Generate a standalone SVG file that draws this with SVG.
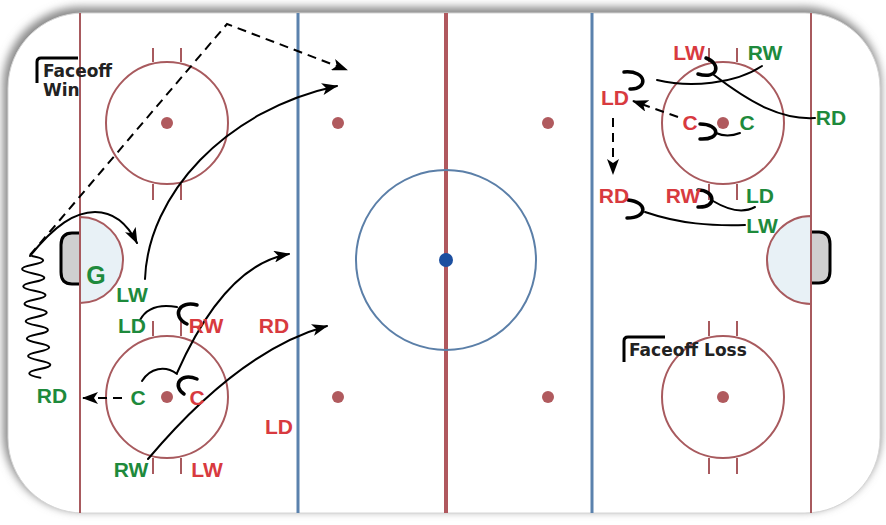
<svg xmlns="http://www.w3.org/2000/svg" width="886" height="525" viewBox="0 0 886 525">
<defs>
<filter id="sh" x="-5%" y="-5%" width="110%" height="110%"><feGaussianBlur stdDeviation="4"/></filter>
<marker id="ah" viewBox="0 0 16 12" refX="15" refY="6" markerWidth="16" markerHeight="12" markerUnits="userSpaceOnUse" orient="auto"><path d="M0,0 L16,6 L0,12 L4,6 z" fill="#000"/></marker>
<style>
.gl{stroke:#a85a5e;stroke-width:2;fill:none}
.bl{stroke:#5b82ad;stroke-width:3;fill:none}
.fc{stroke:#a85a5e;stroke-width:2;fill:none}
.dot{fill:#b05a5e}
.ln{stroke:#000;stroke-width:2;fill:none;stroke-linecap:round}
.dash{stroke:#000;stroke-width:2;fill:none;stroke-dasharray:9,6}
.br{stroke:#000;stroke-width:3.5;fill:none;stroke-linecap:round}
.g{fill:#1e8a3c}
.r{fill:#d83a3f}
text{font-family:"Liberation Sans",Arial,sans-serif;font-weight:bold;font-size:21px;text-anchor:middle}
.lab{font-family:"DejaVu Sans",Verdana,sans-serif;font-size:17px;text-anchor:start;fill:#222}
</style>
</defs>
<rect width="886" height="525" fill="#fff"/>
<rect x="3" y="7" width="878" height="504" rx="78" fill="#8a8a8a" filter="url(#sh)"/>
<rect x="8" y="13" width="872" height="500" rx="75" fill="#fff" stroke="#d6d6d6" stroke-width="1"/>

<g id="rink">
<line class="gl" x1="80" y1="13" x2="80" y2="513"/>
<line class="gl" x1="811" y1="13" x2="811" y2="513"/>
<line class="bl" x1="298" y1="13" x2="298" y2="513"/>
<line class="bl" x1="592" y1="13" x2="592" y2="513"/>
<line x1="446" y1="13" x2="446" y2="513" stroke="#b0585e" stroke-width="4"/>
<circle cx="446" cy="260" r="90" fill="none" stroke="#5b7fa8" stroke-width="2"/>
<circle cx="446" cy="260" r="7" fill="#1c4fa0"/>
<path d="M80,217 A43,43 0 0 1 80,303 Z" fill="#e8f1f6" stroke="#a85a5e" stroke-width="2"/>
<path d="M811,216 A44,44 0 0 0 811,304 Z" fill="#e8f1f6" stroke="#a85a5e" stroke-width="2"/>
<path d="M79,233 L72,233 Q61,233 61,245 L61,272 Q61,284 72,284 L79,284 Z" fill="#cfcfcf"/>
<path d="M79,233 L72,233 Q61,233 61,245 L61,272 Q61,284 72,284 L79,284" fill="none" stroke="#000" stroke-width="3"/>
<path d="M812,232 L819,232 Q830,232 830,244 L830,271 Q830,283 819,283 L812,283 Z" fill="#cfcfcf"/>
<path d="M812,232 L819,232 Q830,232 830,244 L830,271 Q830,283 819,283 L812,283" fill="none" stroke="#000" stroke-width="3"/>
<g id="fc-tl"><circle class="fc" cx="167" cy="123" r="61"/><path class="fc" d="M153,48V62M181,48V62M153,184V200M181,184V200"/><circle class="dot" cx="167" cy="123" r="6"/></g>
<g id="fc-bl"><circle class="fc" cx="167" cy="397" r="61"/><path class="fc" d="M153,321V336M181,321V336M153,458V474M181,458V474"/><circle class="dot" cx="167" cy="397" r="6"/></g>
<g id="fc-tr"><circle class="fc" cx="723" cy="123" r="61"/><path class="fc" d="M709,48V62M737,48V62M709,184V200M737,184V200"/><circle class="dot" cx="723" cy="123" r="6"/></g>
<g id="fc-br"><circle class="fc" cx="723" cy="397" r="61"/><path class="fc" d="M709,321V336M737,321V336M709,458V474M737,458V474"/><circle class="dot" cx="723" cy="397" r="6"/></g>
<circle class="dot" cx="338" cy="123" r="6"/>
<circle class="dot" cx="548" cy="123" r="6"/>
<circle class="dot" cx="338" cy="397" r="6"/>
<circle class="dot" cx="548" cy="397" r="6"/>
</g>

<g id="connectors">
<path class="dash" d="M30,255 L227,24 L347,70" marker-end="url(#ah)"/>
<path class="ln" d="M30,256 C55,225 75,212 95,212 C115,212 128,225 137,243" marker-end="url(#ah)"/>
<path class="ln" d="M32,256 q22,4.35 0.6,8.7 t0.6,8.7 t0.6,8.7 t0.6,8.7 t0.6,8.7 t0.6,8.7 t0.6,8.7 t0.6,8.7 t0.6,8.7 t0.6,8.7 t0.6,8.7 t0.6,8.7 t0.6,8.7 t0.6,8.7"/>
<path class="ln" d="M145,279 C148,195 225,110 337,86" marker-end="url(#ah)"/>
<path class="ln" d="M140,320 C147,307 160,304 177,307"/>
<path class="br" d="M197,305 C179,300 171,316 187,324"/>
<path class="ln" d="M142,381 C150,368 165,365 177,374"/>
<path class="br" d="M197,379 C180,372 172,386 184,394"/>
<path class="ln" d="M177,373 Q225,265 289,254" marker-end="url(#ah)"/>
<path class="ln" d="M148,459 Q240,350 327,326" marker-end="url(#ah)"/>
<path class="dash" d="M122,398 L83,398" marker-end="url(#ah)"/>
<path class="br" d="M624,72 C648,70 648,90 630,89"/>
<path class="ln" d="M657,80 C690,88 735,84 762,66"/>
<path class="br" d="M706,58 C722,64 718,80 698,74"/>
<path class="ln" d="M815,118 C782,120 752,104 714,75"/>
<path class="br" d="M700,124 C720,124 722,140 700,139"/>
<path class="ln" d="M716,133 C725,137 732,136 740,133"/>
<path class="dash" d="M678,117 L633,101" marker-end="url(#ah)"/>
<path class="dash" d="M613,118 L613,174" marker-end="url(#ah)"/>
<path class="br" d="M698,190 C715,190 718,208 698,207"/>
<path class="ln" d="M713,201 C728,210 742,214 755,207"/>
<path class="br" d="M628,200 C648,202 648,218 627,218"/>
<path class="ln" d="M645,212 C680,224 712,226 745,225"/>
</g>

<g id="label-win"><path d="M37,83 V62 Q37,58 41,58 H78" fill="none" stroke="#000" stroke-width="3"/><text class="lab" x="43" y="77">Faceoff</text><text class="lab" x="43" y="96">Win</text></g>
<g id="label-loss"><path d="M624,362 V341 Q624,337 628,337 H665" fill="none" stroke="#000" stroke-width="3"/><text class="lab" x="629" y="356">Faceoff Loss</text></g>

<g id="p-G"><text class="g" x="96" y="284" style="font-size:25px">G</text></g>
<g id="p-LW-g1"><text class="g" x="132" y="302">LW</text></g>
<g id="p-LD-g1"><text class="g" x="132" y="333">LD</text></g>
<g id="p-RW-r1"><text class="r" x="206" y="333">RW</text></g>
<g id="p-RD-r1"><text class="r" x="274" y="333">RD</text></g>
<g id="p-C-g1"><text class="g" x="138" y="405">C</text></g>
<g id="p-C-r1"><text class="r" x="197" y="405">C</text></g>
<g id="p-LD-r1"><text class="r" x="279" y="434">LD</text></g>
<g id="p-RW-g1"><text class="g" x="131" y="477">RW</text></g>
<g id="p-LW-r1"><text class="r" x="207" y="477">LW</text></g>
<g id="p-RD-g1"><text class="g" x="52" y="403">RD</text></g>

<g id="p-LW-r2"><text class="r" x="689" y="60">LW</text></g>
<g id="p-RW-g2"><text class="g" x="765" y="60">RW</text></g>
<g id="p-LD-r2"><text class="r" x="615" y="105">LD</text></g>
<g id="p-C-r2"><text class="r" x="690" y="130">C</text></g>
<g id="p-C-g2"><text class="g" x="747" y="130">C</text></g>
<g id="p-RD-g2"><text class="g" x="831" y="125">RD</text></g>
<g id="p-RD-r2"><text class="r" x="614" y="203">RD</text></g>
<g id="p-RW-r2"><text class="r" x="683" y="203">RW</text></g>
<g id="p-LD-g2"><text class="g" x="760" y="203">LD</text></g>
<g id="p-LW-g2"><text class="g" x="762" y="233">LW</text></g>
</svg>
